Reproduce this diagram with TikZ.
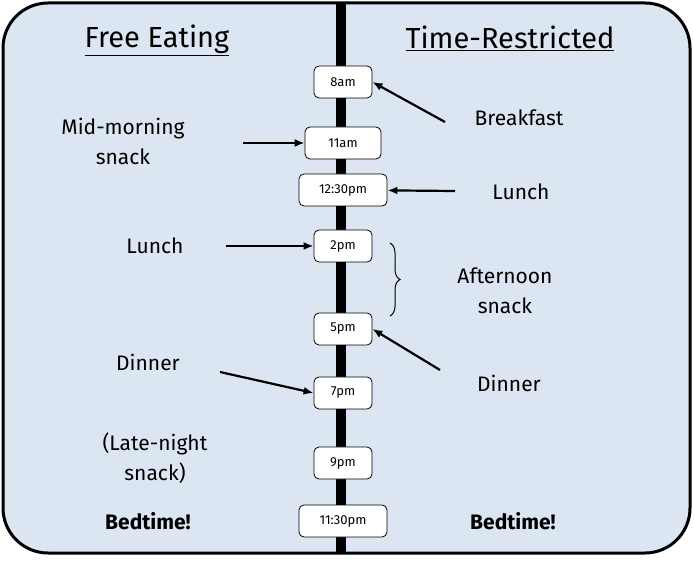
\documentclass[tikz,border=0pt]{standalone}
\usepackage{fontspec}
\setmainfont{Fira Sans}
\usetikzlibrary{decorations.pathreplacing,arrows.meta}
\definecolor{panel}{HTML}{DCE6F2}
\begin{document}
\begin{tikzpicture}[x=1pt,y=-1pt,
  slot/.style={draw,line width=0.8pt,rounded corners=5pt,fill=white,minimum height=32pt,font=\fontsize{13}{15}\selectfont},
  lbl/.style={font=\fontsize{21}{30}\selectfont,align=center},
  ptr/.style={-{Latex[length=10pt,width=8pt]},line width=2.2pt}]
\useasboundingbox (0,0) rectangle (694,561);
\draw[line width=3pt,fill=panel,rounded corners=45pt] (3,3) rectangle (690,553);
\draw[line width=10pt] (341,4) -- (341,552);
\node[font=\fontsize{29}{33}\selectfont] (fe) at (157,40){\underline{Free Eating}};
\node[font=\fontsize{29}{33}\selectfont] (tr) at (510,38){\underline{Time-Restricted}};
\node[slot,minimum width=58pt] (t8) at (343,82){8am};
\node[slot,minimum width=76pt] (t11) at (343,143){11am};
\node[slot,minimum width=88pt] (t1230) at (343,190){12:30pm};
\node[slot,minimum width=58pt] (t2) at (343,246){2pm};
\node[slot,minimum width=58pt] (t5) at (343,329){5pm};
\node[slot,minimum width=58pt] (t7) at (343,393){7pm};
\node[slot,minimum width=58pt] (t9) at (343,463){9pm};
\node[slot,minimum width=88pt] (t1130) at (343,521){11:30pm};
% free eating
\node[lbl] (snk) at (123,141){Mid-morning\\snack};
\node[lbl] (lun) at (155,246){Lunch};
\node[lbl] (din) at (148,362){Dinner};
\node[lbl] (late) at (155,458){(Late-night\\snack)};
\node[lbl,font=\fontsize{21}{30}\selectfont\bfseries] (bed) at (148,521){Bedtime!};
% time restricted
\node[lbl] (brk) at (519,118){Breakfast};
\node[lbl] (lunr) at (521,192){Lunch};
\node[lbl] (aft) at (505,291){Afternoon\\snack};
\node[lbl] (dinr) at (509,383){Dinner};
\node[lbl,font=\fontsize{21}{30}\selectfont\bfseries] (bedr) at (513,521){Bedtime!};
\coordinate (a1) at (243,143);
\coordinate (a2) at (226,246);
\coordinate (a3) at (220,372);
\coordinate (b1) at (445,122);
\coordinate (b2) at (455,191);
\coordinate (b3) at (440,370);
\draw[ptr] (a1) -- (t11);
\draw[ptr] (a2) -- (t2);
\draw[ptr] (a3) -- (t7.west);
\draw[ptr] (b1) -- (t8.east);
\draw[ptr] (b2) -- (t1230);
\draw[ptr] (b3) -- (t5.east);
\draw[decorate,decoration={brace,amplitude=10pt},line width=1pt] (390,243) -- (390,316);
\end{tikzpicture}
\end{document}
